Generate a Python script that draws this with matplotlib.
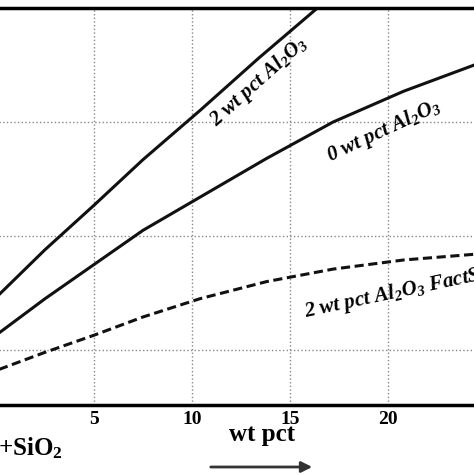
import matplotlib
matplotlib.use("Agg")
import matplotlib.pyplot as plt
import numpy as np

x_a2 = [0, 2.5, 5, 7.5, 10.4, 13.4, 16.4, 17.2]
y_a2 = [1.46, 1.88, 2.27, 2.67, 3.10, 3.56, 4.0, 4.11]
x_a0 = [0, 2.5, 5, 7.5, 10.4, 13.8, 17.2, 20.8, 24.4, 25]
y_a0 = [1.13, 1.45, 1.75, 2.05, 2.34, 2.68, 3.0, 3.27, 3.5, 3.54]
x_fs = [0, 2.5, 5, 7.5, 10.4, 13.8, 17.2, 20.8, 24.4, 25]
y_fs = [0.82, 0.98, 1.13, 1.29, 1.45, 1.60, 1.71, 1.79, 1.84, 1.85]
xticks = [5, 10, 15, 20]

plt.rcParams['font.family'] = ['Liberation Serif', 'DejaVu Serif']
plt.rcParams['mathtext.fontset'] = 'custom'
plt.rcParams['mathtext.rm'] = 'Liberation Serif:bold:italic'
plt.rcParams['mathtext.it'] = 'Liberation Serif:bold:italic'
plt.rcParams['mathtext.bf'] = 'Liberation Serif:bold'

W = 474
fig = plt.figure(figsize=(4.74, 4.74), dpi=100)
ax = fig.add_axes([-4/W, (W-405)/W, 490/W, 397/W])
ax.set_xlim(0, 25)
ax.set_ylim(0.518, 4)
ax.plot(x_a2, y_a2, color='#111', lw=2.2)
ax.plot(x_a0, y_a0, color='#111', lw=2.2)
ax.plot(x_fs, y_fs, color='#111', lw=2.2, ls=(0, (3, 1.5)))
ax.set_xticks(xticks)
ax.set_xticklabels([str(t) for t in xticks], fontsize=14, fontweight='bold')
ax.set_yticks([1, 2, 3])
ax.set_yticklabels([])
ax.tick_params(length=0, pad=4)
ax.grid(True, ls=':', color='#888', lw=1)
for s in ['left', 'right']:
    ax.spines[s].set_visible(False)
for s in ['top', 'bottom']:
    ax.spines[s].set_linewidth(2.5)

kw = dict(fontsize=15, fontweight='bold', style='italic', ha='center', va='center')
ax.text(13.4, 3.35, r'2 wt pct Al$_2$O$_3$', rotation=42, **kw)
ax.text(19.8, 2.92, r'0 wt pct Al$_2$O$_3$', rotation=25, **kw)
ax.text(21.0, 1.52, r'2 wt pct Al$_2$O$_3$ FactSage', rotation=12, **kw)

fig.text(-2/W, 1-448/W, r'+SiO$_\mathbf{2}$', fontsize=18, fontweight='bold', ha='left', va='center')
fig.text(262/W, 1-435/W, 'wt pct', fontsize=18, fontweight='bold', ha='center', va='center')
fig.add_artist(matplotlib.patches.FancyArrowPatch((208/W, 1-467/W), (315/W, 1-467/W),
    transform=fig.transFigure, arrowstyle='-|>', mutation_scale=16, color='#333', lw=2))
fig.savefig('out.png', dpi=100)
